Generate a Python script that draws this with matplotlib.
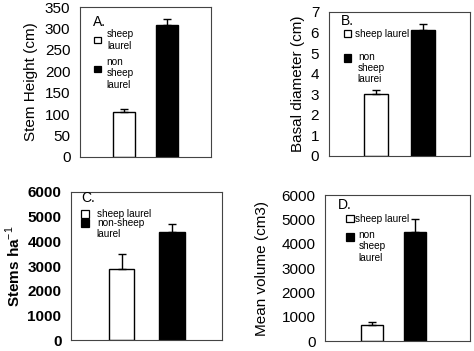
import matplotlib
matplotlib.use("Agg")
import matplotlib.pyplot as plt
from matplotlib.patches import Rectangle

plt.rcParams['font.family'] = ['Liberation Sans', 'DejaVu Sans']
plt.rcParams['mathtext.fontset'] = 'custom'
plt.rcParams['mathtext.rm'] = 'Liberation Sans'
plt.rcParams['mathtext.bf'] = 'Liberation Sans:bold'

groups = ["sheep laurel", "non-sheep laurel"]
positions = [1, 2]

height_vals = [105, 309]
height_err = [7, 14]

diam_vals = [3.03, 6.11]
diam_err = [0.17, 0.31]

stems_vals = [2880, 4390]
stems_err = [620, 310]

volume_vals = [670, 4470]
volume_err = [130, 560]

fig = plt.figure(figsize=(4.74, 3.51), dpi=100)

panels = [
    dict(rect=[0.169, 0.553, 0.276, 0.427], vals=height_vals, err=height_err,
         ylim=(0, 350), ticks=range(0, 351, 50), ylabel="Stem Height (cm)",
         lab_x=-0.32, letter="A.", letter_xy=(0.10, 0.90), xlim=(0, 3),
         items=[(0.135, 0.78, 0.205, 0.78, "sheep\nlaurel", "center"),
                (0.135, 0.587, 0.20, 0.665, "non\nsheep\nlaurel", "top")],
         bold=False),
    dict(rect=[0.694, 0.556, 0.297, 0.410], vals=diam_vals, err=diam_err,
         ylim=(0, 7), ticks=range(0, 8), ylabel="Basal diameter (cm)",
         lab_x=-0.167, letter="B.", letter_xy=(0.085, 0.94), xlim=(0, 3),
         items=[(0.13, 0.85, 0.185, 0.85, "sheep laurel", "center"),
                (0.13, 0.68, 0.205, 0.725, "non\nsheep\nlaurei", "top")],
         bold=False),
    dict(rect=[0.150, 0.030, 0.319, 0.423], vals=stems_vals, err=stems_err,
         ylim=(0, 6000), ticks=range(0, 6001, 1000), ylabel="Stems ha$^{-1}$",
         lab_x=-0.315, letter="C.", letter_xy=(0.065, 0.96), xlim=(0, 3),
         items=[(0.093, 0.85, 0.17, 0.85, "sheep laurel", "center"),
                (0.093, 0.79, 0.17, 0.825, "non-sheep\nlaurel", "top")],
         bold=True),
    dict(rect=[0.686, 0.028, 0.306, 0.416], vals=volume_vals, err=volume_err,
         ylim=(0, 6000), ticks=range(0, 6001, 1000), ylabel="Mean volume (cm3)",
         lab_x=-0.39, letter="D.", letter_xy=(0.085, 0.93), xlim=(-0.07, 3.26),
         items=[(0.17, 0.84, 0.205, 0.84, "sheep laurel", "center"),
                (0.17, 0.715, 0.23, 0.76, "non\nsheep\nlaurel", "top")],
         bold=False),
]

for p in panels:
    ax = fig.add_axes(p["rect"])
    ax.bar(positions, p["vals"], width=0.5, color=["white", "black"],
           edgecolor="black", linewidth=1.0, zorder=2)
    ax.errorbar(positions, p["vals"], yerr=[[0, 0], p["err"]], fmt="none",
                ecolor="black", elinewidth=1.0, capsize=3, capthick=1.0, zorder=3)
    ax.set_xlim(*p["xlim"])
    ax.set_ylim(*p["ylim"])
    ax.set_yticks(list(p["ticks"]))
    ax.set_xticks([])
    ax.tick_params(axis="y", length=0, pad=7, labelsize=11)
    if p["bold"]:
        for t in ax.get_yticklabels():
            t.set_fontweight("bold")
    for s in ax.spines.values():
        s.set_linewidth(0.8)
        s.set_color("#444444")
    ax.set_ylabel(p["ylabel"], fontsize=11,
                  fontweight="bold" if p["bold"] else "normal")
    ax.yaxis.set_label_coords(p["lab_x"], 0.5)
    ax.text(p["letter_xy"][0], p["letter_xy"][1], p["letter"], transform=ax.transAxes,
            fontsize=10, ha="left", va="center")
    fills = ["white", "black"]
    for (sx, sy, tx, ty, txt, va), fc in zip(p["items"], fills):
        w = 0.052
        h = w * (p["rect"][2] * 474) / (p["rect"][3] * 351)
        ax.add_patch(Rectangle((sx - w / 2, sy - h / 2), w, h, transform=ax.transAxes,
                               facecolor=fc, edgecolor="black", linewidth=0.9,
                               clip_on=False, zorder=4))
        ax.text(tx, ty, txt, transform=ax.transAxes, fontsize=7.2, ha="left", va=va,
                linespacing=1.15)

fig.savefig("out.png", dpi=100)
